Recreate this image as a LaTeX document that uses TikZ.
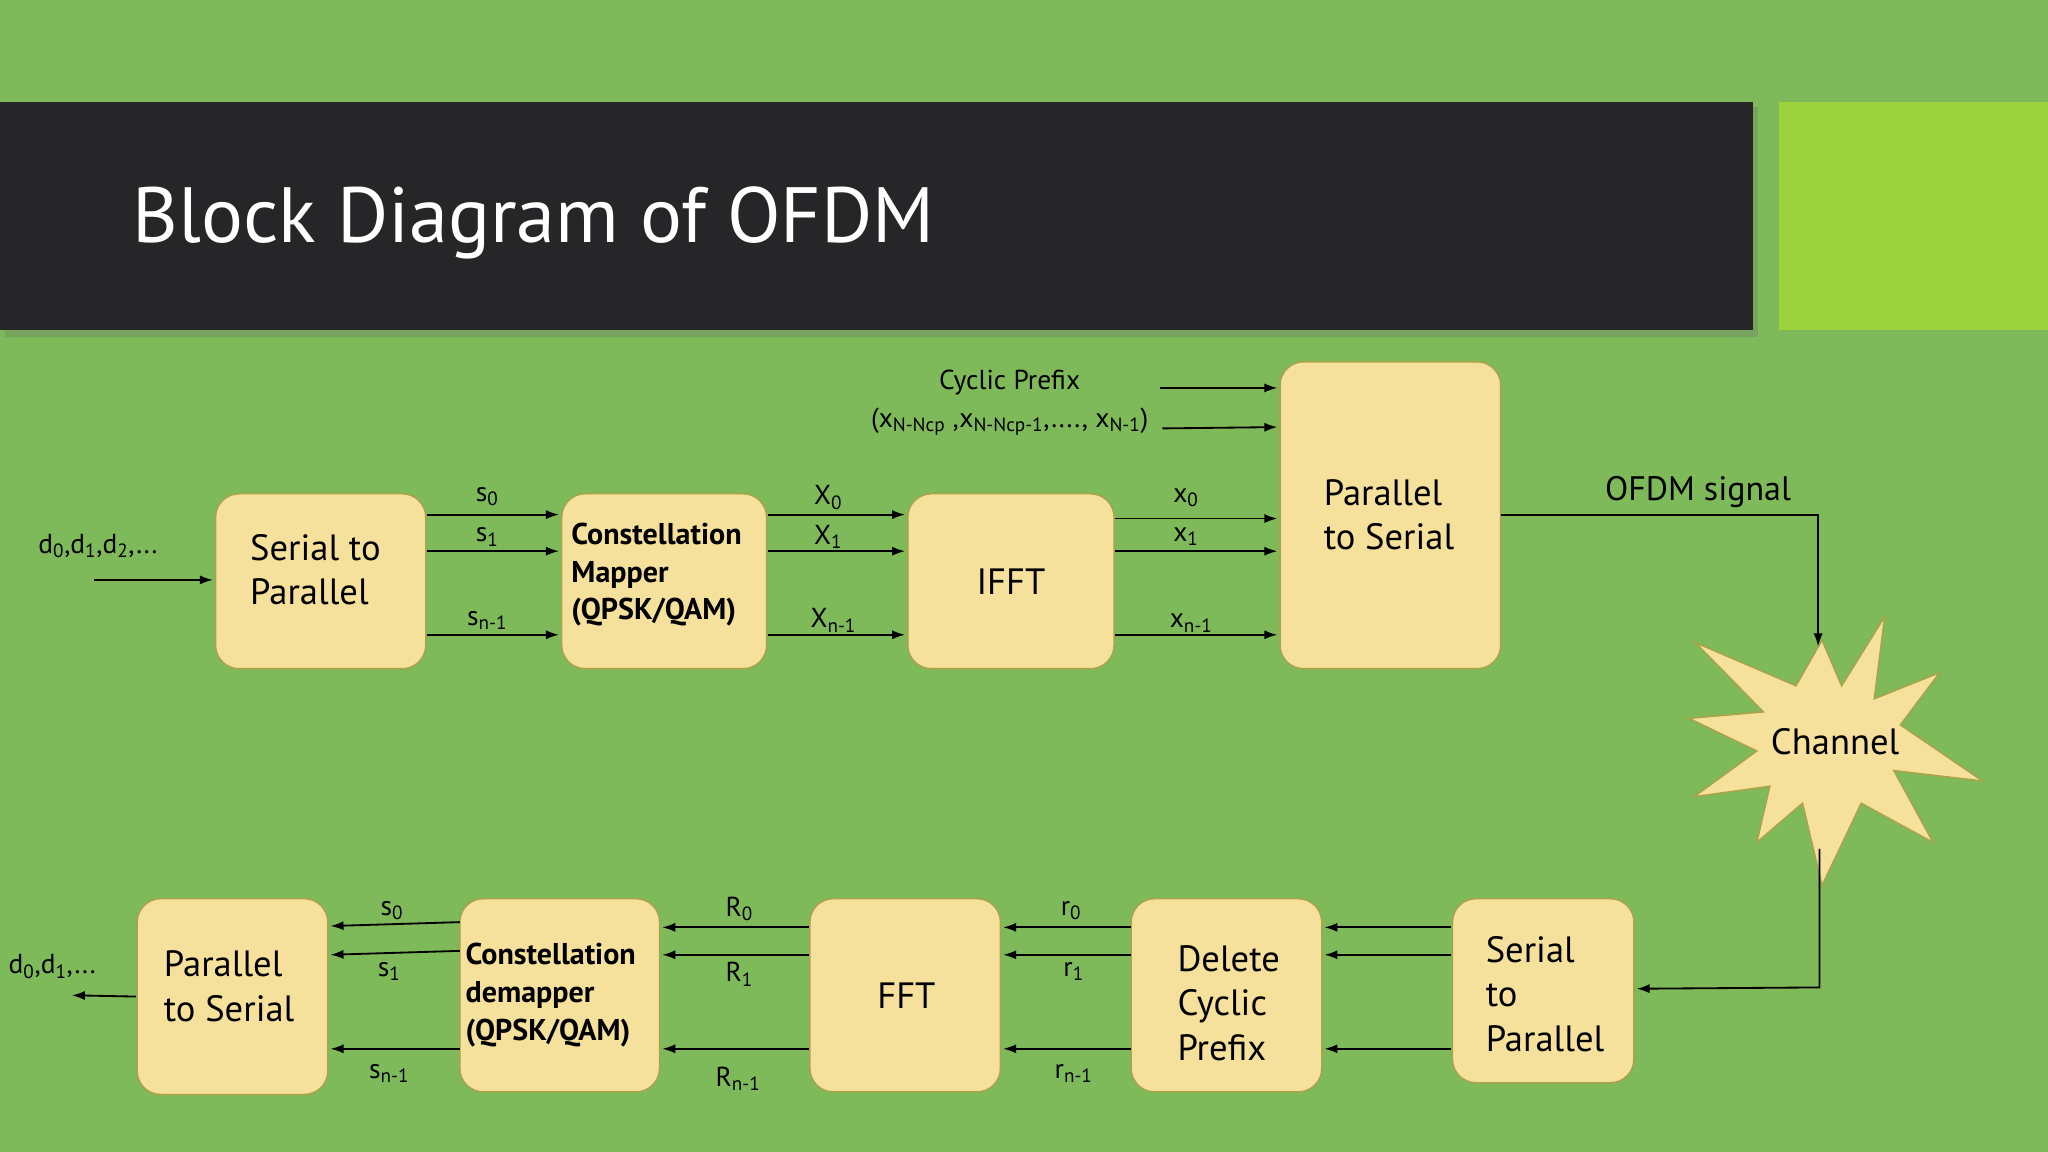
\documentclass[tikz,border=0pt]{standalone}
\usepackage{fontspec}
\setmainfont{PT Sans}
\begin{document}
\newcommand{\sub}[1]{\textsubscript{#1}}
\begin{tikzpicture}[x=1pt,y=-1pt,
  blk/.style={draw=boxedge,line width=1.2pt,fill=boxfill,rounded corners=18pt,inner sep=0pt},
  btxt/.style={font=\fontsize{28}{34}\selectfont,align=left},
  ctxt/.style={font=\bfseries\fontsize{23}{29}\selectfont,align=left},
  lab/.style={font=\fontsize{21}{24}\selectfont},
  arr/.style={line width=1.4pt,-{Latex[length=10pt,width=7pt]}}]
\usetikzlibrary{arrows.meta}
\definecolor{bg}{HTML}{7EB95A}
\definecolor{bar}{HTML}{262528}
\definecolor{sq}{HTML}{9CD33C}
\definecolor{boxfill}{HTML}{F5E19C}
\definecolor{boxedge}{HTML}{A9A34A}
\fill[bg] (0,0) rectangle (1568,882);
\useasboundingbox (0,0) rectangle (1568,882);
\fill[black!60,opacity=0.25] (4,82) rectangle (1346,258);
\fill[bar] (0,78) rectangle (1342,253);
\fill[sq] (1362,78) rectangle (1568,253);
\node[anchor=base west,text=white,font=\fontsize{60}{60}\selectfont] (title) at (98,186) {Block Diagram of OFDM};
% top row
\path[blk] (165,378) rectangle (326,512); \node[btxt,anchor=west] (sp) at (188,436) {Serial to\\Parallel};
\path[blk] (430,378) rectangle (587,512); \node[ctxt,anchor=west] (cm) at (434,440) {Constellation\\Mapper\\(QPSK/QAM)};
\path[blk] (695,378) rectangle (853,512); \node[btxt] (ifft) at (774,445) {IFFT};
\path[blk] (980,277) rectangle (1149,512); \node[btxt,anchor=west] (ps) at (1010,394) {Parallel\\to Serial};
% bottom row
\path[blk] (105,688) rectangle (251,838); \node[btxt,anchor=west] (ps2) at (122,755) {Parallel\\to Serial};
\path[blk] (352,688) rectangle (505,836); \node[ctxt,anchor=west] (cd) at (353,762) {Constellation\\demapper\\(QPSK/QAM)};
\path[blk] (620,688) rectangle (766,836); \node[btxt] (fft) at (694,762) {FFT};
\path[blk] (866,688) rectangle (1012,836); \node[btxt,anchor=west] (dcp) at (898,768) {Delete\\Cyclic\\Prefix};
\path[blk] (1112,688) rectangle (1251,829); \node[btxt,anchor=west] (sp2) at (1134,761) {Serial\\to\\Parallel};
% channel
\path[draw=boxedge,line width=1.2pt,fill=boxfill] (1443,472) -- (1435,535) -- (1485,515) -- (1455,555) -- (1518,598) -- (1450,590) -- (1480,645) -- (1425,615) -- (1395,678) -- (1380,615) -- (1345,645) -- (1355,602) -- (1297,610) -- (1345,575) -- (1293,550) -- (1350,545) -- (1298,492) -- (1375,525) -- (1395,490) -- (1410,525) -- cycle;
\node[btxt] (ch) at (1405,568) {Channel};
% connectors top
\coordinate (in) at (72,444);
\draw[arr] (in) -- (163,444);
\node[lab] (d) at (75,418) {d\sub{0},d\sub{1},d\sub{2},...};
\foreach \y in {394,422,486}{\draw[arr] (327,\y) -- (428,\y); \draw[arr] (588,\y) -- (693,\y);}
\foreach \y in {397,422,486}{\draw[arr] (854,\y) -- (978,\y);}
\node[lab] (s0) at (373,380) {s\sub{0}};
\node[lab] (s1) at (373,411) {s\sub{1}};
\node[lab] (sn) at (373,475) {s\sub{n-1}};
\node[lab] (X0) at (634,381) {X\sub{0}};
\node[lab] (X1) at (634,411) {X\sub{1}};
\node[lab] (Xn) at (638,475) {X\sub{n-1}};
\node[lab] (x0) at (908,381) {x\sub{0}};
\node[lab] (x1) at (908,411) {x\sub{1}};
\node[lab] (xn) at (912,477) {x\sub{n-1}};
\node[lab] (cp) at (773,293) {Cyclic Prefix};
\node[lab] (cpx) at (773,323) {(x\sub{N-Ncp} ,x\sub{N-Ncp-1},...., x\sub{N-1})};
\draw[arr] (888,297) -- (978,297);
\draw[arr] (890,328) -- (978,327);
\node[lab,font=\fontsize{26}{28}\selectfont] (ofdm) at (1300,377) {OFDM signal};
\draw[arr] (1149,394) -- (1392,394) -- (1392,495);
\draw[arr] (1393,650) -- (1393,756) -- (1253,757);
% bottom connectors
\foreach \y in {710,731,803}{\draw[arr] (1111,\y) -- (1014,\y); \draw[arr] (866,\y) -- (768,\y); \draw[arr] (619,\y) -- (507,\y);}
\draw[arr] (352,706) -- (253,709);
\draw[arr] (352,728) -- (253,731);
\draw[arr] (352,803) -- (253,803);
\coordinate (out) at (55,762);
\draw[arr] (104,763) -- (out);
\node[lab] (dd) at (40,740) {d\sub{0},d\sub{1},...};
\node[lab] (bs0) at (300,697) {s\sub{0}};
\node[lab] (bs1) at (298,744) {s\sub{1}};
\node[lab] (bsn) at (298,822) {s\sub{n-1}};
\node[lab] (R0) at (566,696) {R\sub{0}};
\node[lab] (R1) at (566,746) {R\sub{1}};
\node[lab] (Rn) at (565,826) {R\sub{n-1}};
\node[lab] (r0) at (820,697) {r\sub{0}};
\node[lab] (r1) at (822,744) {r\sub{1}};
\node[lab] (rn) at (822,822) {r\sub{n-1}};
\end{tikzpicture}
\end{document}
